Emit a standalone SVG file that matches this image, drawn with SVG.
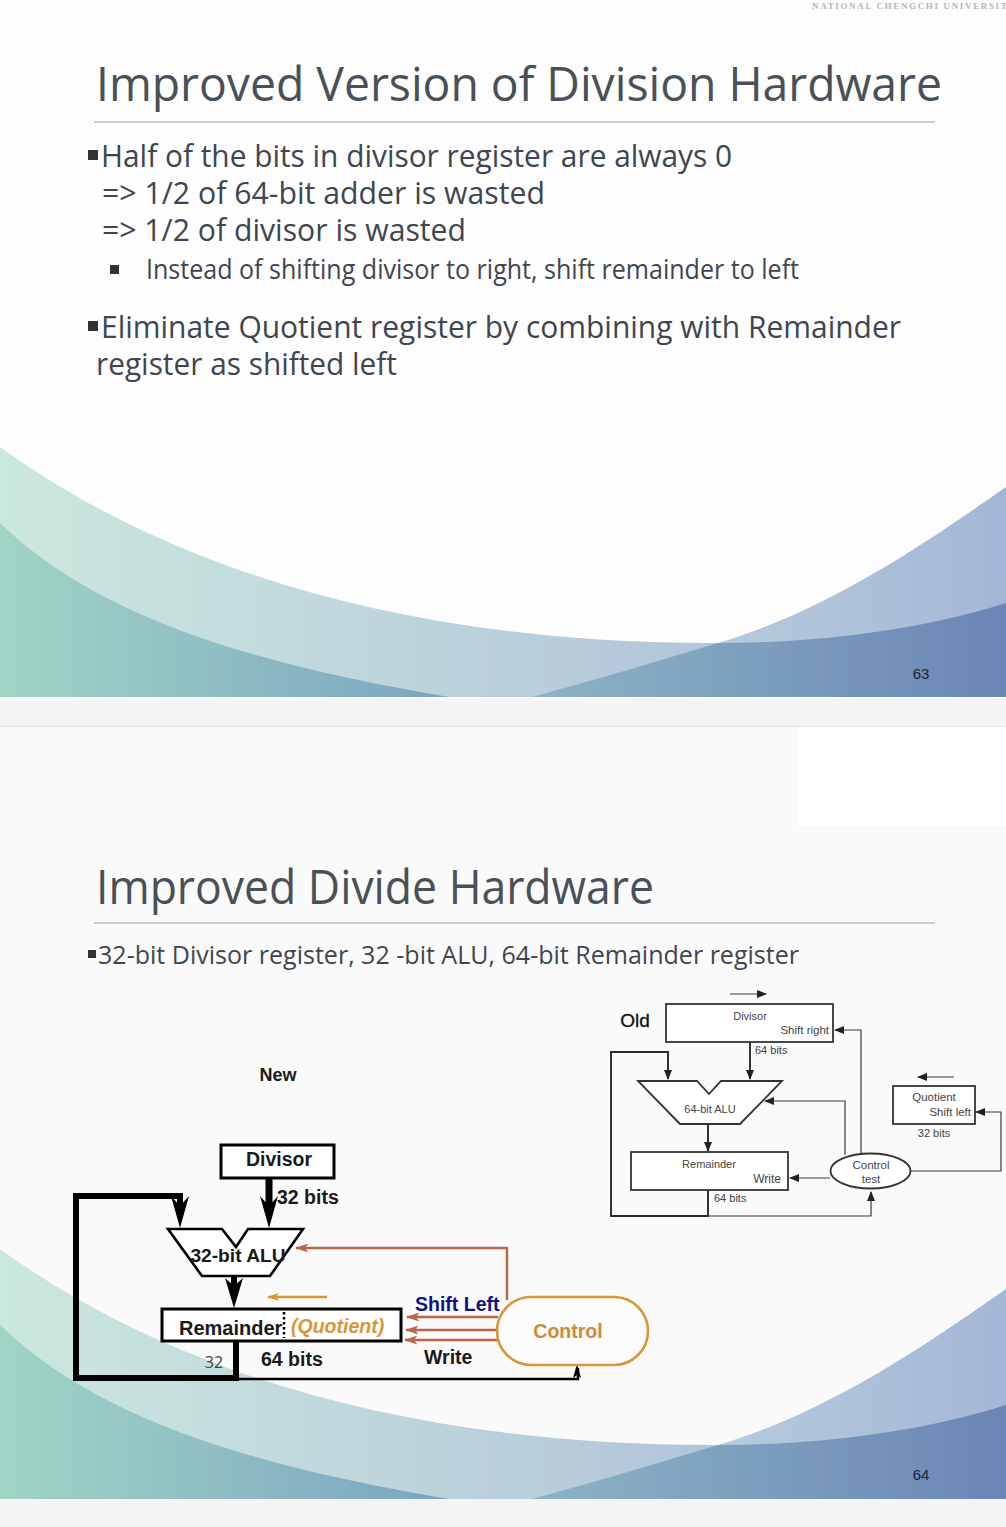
<svg xmlns="http://www.w3.org/2000/svg" xmlns:xlink="http://www.w3.org/1999/xlink" width="1006" height="1527" viewBox="0 0 1006 1527">
<style>
text{font-family:"Open Sans","Noto Sans",sans-serif;fill:#3f4650}
.title{font-size:48px;fill:#4a5058}
.b1{font-size:31px}
.b2{font-size:27px}
.h{font-family:"Liberation Sans",Arial,sans-serif;font-weight:bold;fill:#1a1a1a}
.o{font-family:"Liberation Sans",Arial,sans-serif;fill:#444}
.box{fill:#fff;stroke:#000;stroke-width:3}
.obox{fill:#fff;stroke:#333;stroke-width:1.8}
.ol{fill:none;stroke:#3a3a3a;stroke-width:1.2}
.ot{fill:none;stroke:#2a2a2a;stroke-width:1.9}
.red{fill:none;stroke:#b9654a;stroke-width:2.4}
</style>
<defs>
<linearGradient id="g1" gradientUnits="userSpaceOnUse" x1="0" y1="0" x2="700" y2="0"><stop offset="0" stop-color="#cbe8de"/><stop offset="1" stop-color="#b3c5da"/></linearGradient>
<linearGradient id="g2" gradientUnits="userSpaceOnUse" x1="0" y1="0" x2="450" y2="0"><stop offset="0" stop-color="#a0d4c4"/><stop offset="1" stop-color="#7ca4c2"/></linearGradient>
<linearGradient id="g3" gradientUnits="userSpaceOnUse" x1="700" y1="0" x2="1006" y2="0"><stop offset="0" stop-color="#b7ccdc"/><stop offset="1" stop-color="#a4b6d6"/></linearGradient>
<linearGradient id="g4" gradientUnits="userSpaceOnUse" x1="532" y1="0" x2="1006" y2="0"><stop offset="0" stop-color="#8cb4c4"/><stop offset="1" stop-color="#6b85b6"/></linearGradient>
<g id="swoosh">
<path fill="url(#g1)" d="M0 447C170 570 410 644 718 643L730 697H0Z"/>
<path fill="url(#g3)" d="M1006 487C930 540 830 610 718 643L730 660H1006Z"/>
<path fill="url(#g2)" d="M0 523C100 620 260 665 449 697H0Z"/>
<path fill="url(#g4)" d="M532 697C595 680 655 662 718 643C820 643 920 630 1006 603V697Z"/>
</g>
<marker id="ao" viewBox="0 0 10 8" refX="9" refY="4" markerWidth="10" markerHeight="8" markerUnits="userSpaceOnUse" orient="auto"><path d="M0 0L10 4L0 8Z" fill="#222"/></marker>
<marker id="ar" viewBox="0 0 12 8" refX="11" refY="4" markerWidth="14" markerHeight="9" markerUnits="userSpaceOnUse" orient="auto"><path d="M0 0L12 4L0 8L3 4Z" fill="#b9654a"/></marker>
<marker id="ay" viewBox="0 0 12 8" refX="11" refY="4" markerWidth="13" markerHeight="8" markerUnits="userSpaceOnUse" orient="auto"><path d="M0 0L12 4L0 8L3 4Z" fill="#d9953a"/></marker>
</defs>
<rect width="1006" height="1527" fill="#f3f4f6"/>
<g id="slide1">
<rect width="1006" height="697" fill="#fdfdfd"/>
<use xlink:href="#swoosh" href="#swoosh"/>
<text x="812" y="9" font-size="9" style="font-family:'Liberation Serif',serif;font-weight:bold;fill:#b5b5b5;letter-spacing:1.65px">NATIONAL CHENGCHI UNIVERSIT</text>
<text class="title" x="96" y="101" textLength="846" lengthAdjust="spacingAndGlyphs">Improved Version of Division Hardware</text>
<line x1="94" y1="122" x2="935" y2="122" stroke="#9a9da1" stroke-width="1"/>
<rect x="88" y="150" width="10" height="10" fill="#333"/>
<text class="b1" x="101" y="167" textLength="631" lengthAdjust="spacingAndGlyphs">Half of the bits in divisor register are always 0</text>
<text class="b1" x="102" y="204" textLength="443" lengthAdjust="spacingAndGlyphs">=&gt; 1/2 of 64-bit adder is wasted</text>
<text class="b1" x="102" y="241" textLength="364" lengthAdjust="spacingAndGlyphs">=&gt; 1/2 of divisor is wasted</text>
<rect x="110" y="265" width="9" height="9" fill="#333"/>
<text class="b2" x="146" y="279" textLength="653" lengthAdjust="spacingAndGlyphs">Instead of shifting divisor to right, shift remainder to left</text>
<rect x="88" y="321" width="10" height="10" fill="#333"/>
<text class="b1" x="101" y="338" textLength="800" lengthAdjust="spacingAndGlyphs">Eliminate Quotient register by combining with Remainder</text>
<text class="b1" x="96" y="375" textLength="301" lengthAdjust="spacingAndGlyphs">register as shifted left</text>
<text x="921" y="679" font-size="15" text-anchor="middle" style="font-family:'Liberation Sans',sans-serif;fill:#1c2430">63</text>
</g>
<rect y="697" width="1006" height="1.5" fill="#fff"/>
<rect y="726" width="1006" height="1" fill="#e2e3e5"/>
<g id="slide2">
<rect y="727" width="1006" height="772" fill="#fafafa"/>
<rect x="798" y="727" width="208" height="99" fill="#fff"/>
<use xlink:href="#swoosh" href="#swoosh" transform="translate(0 802)"/>
<text class="title" x="96" y="904" textLength="558" lengthAdjust="spacingAndGlyphs">Improved Divide Hardware</text>
<line x1="94" y1="923" x2="935" y2="923" stroke="#9a9da1" stroke-width="1"/>
<rect x="88" y="950" width="8" height="8" fill="#333"/>
<text x="98" y="964" font-size="26" textLength="701" lengthAdjust="spacingAndGlyphs">32-bit Divisor register, 32 -bit ALU, 64-bit Remainder register</text>
<text x="921" y="1480" font-size="15" text-anchor="middle" style="font-family:'Liberation Sans',sans-serif;fill:#1c2430">64</text>
</g>
<g id="connectors">
<g id="old-connectors">
<path class="ol" d="M730 994H766" marker-end="url(#ao)"/>
<path class="ol" d="M954 1077H918" marker-end="url(#ao)"/>
<path class="ot" d="M750 1042V1079" marker-end="url(#ao)"/>
<path class="ot" d="M708 1190V1216H611V1052H668V1079" marker-end="url(#ao)"/>
<path class="ot" d="M708 1124V1151" marker-end="url(#ao)"/>
<path class="ol" d="M708 1216H871V1192" marker-end="url(#ao)"/>
<path class="ol" d="M830 1178H790" marker-end="url(#ao)"/>
<path class="ol" d="M845 1155V1101H765" marker-end="url(#ao)"/>
<path class="ol" d="M861 1153V1030H835" marker-end="url(#ao)"/>
<path class="ol" d="M911 1171H1001V1112H976" marker-end="url(#ao)"/>
</g>
<g id="new-connectors">
<path d="M269 1178V1212" fill="none" stroke="#000" stroke-width="7"/>
<path d="M269 1228L260 1196L269 1206L278 1196Z" fill="#000"/>
<path d="M180 1210V1196H76V1378H236V1342" fill="none" stroke="#000" stroke-width="6"/>
<path d="M180 1228L171 1196L180 1206L189 1196Z" fill="#000"/>
<path d="M234 1276V1292" fill="none" stroke="#000" stroke-width="6"/>
<path d="M234 1308L225 1278L234 1286L243 1278Z" fill="#000"/>
<path d="M238 1379H578V1368" fill="none" stroke="#000" stroke-width="2.5"/>
<path d="M577 1364L573 1378L577 1375L581 1378Z" fill="#000"/>
<path class="red" d="M507 1300V1248H296" marker-end="url(#ar)"/>
<path class="red" d="M498 1317H407" marker-end="url(#ar)"/>
<path class="red" d="M498 1330H406" marker-end="url(#ar)"/>
<path class="red" d="M498 1340H405" marker-end="url(#ar)"/>
<path d="M327 1297H268" fill="none" stroke="#d9953a" stroke-width="2.4" marker-end="url(#ay)"/>
</g>
</g>
<g id="old-divisor"><rect class="obox" x="666" y="1004" width="167" height="38"/><text class="o" x="750" y="1020" font-size="11" text-anchor="middle">Divisor</text><text class="o" x="829" y="1034" font-size="11.500" text-anchor="end">Shift right</text></g>
<text class="o" x="755" y="1054" font-size="11">64 bits</text>
<g id="old-alu"><path class="obox" d="M638 1081H697L709 1094L721 1081H782L740 1124H680Z"/><text class="o" x="710" y="1113" font-size="11" text-anchor="middle">64-bit ALU</text></g>
<g id="old-remainder"><rect class="obox" x="631" y="1152" width="157" height="38"/><text class="o" x="709" y="1168" font-size="11" text-anchor="middle">Remainder</text><text class="o" x="781" y="1183" font-size="12" text-anchor="end">Write</text></g>
<text class="o" x="714" y="1202" font-size="11">64 bits</text>
<g id="old-control"><ellipse cx="870.500" cy="1171" rx="40" ry="17.500" fill="#fff" stroke="#333" stroke-width="1.8"/><text class="o" x="871" y="1169" font-size="11.500" text-anchor="middle">Control</text><text class="o" x="871" y="1183" font-size="11.500" text-anchor="middle">test</text></g>
<g id="old-quotient"><rect class="obox" x="893" y="1086" width="82" height="38"/><text class="o" x="934" y="1101" font-size="11.500" text-anchor="middle">Quotient</text><text class="o" x="971" y="1116" font-size="11.500" text-anchor="end">Shift left</text></g>
<text class="o" x="934" y="1137" font-size="11" text-anchor="middle">32 bits</text>
<text x="635" y="1027" font-size="19" text-anchor="middle" stroke="#111" stroke-width="0.3" style="font-family:'Liberation Sans',sans-serif;fill:#111">Old</text>
<text class="h" x="278" y="1081" font-size="18" text-anchor="middle">New</text>
<g id="new-divisor"><rect class="box" x="221" y="1145" width="113" height="33"/><text class="h" x="279" y="1166" font-size="19.500" text-anchor="middle">Divisor</text></g>
<text class="h" x="277" y="1204" font-size="19.500">32 bits</text>
<g id="new-alu"><path d="M168 1229H222L236 1247L248 1229H303L270 1276H202Z" fill="#fff" stroke="#000" stroke-width="2.600"/><text class="h" x="238" y="1262" font-size="19.200" text-anchor="middle">32-bit ALU</text></g>
<g id="new-remainder"><rect class="box" x="162" y="1309" width="239" height="32"/><text class="h" x="179" y="1335" font-size="20">Remainder</text><line x1="284" y1="1312" x2="284" y2="1338" stroke="#000" stroke-width="2.5" stroke-dasharray="2.500 2.500"/><text x="291" y="1333" font-size="19.500" style="font-family:'Liberation Sans',sans-serif;font-weight:bold;font-style:italic;fill:#d9953a">(Quotient)</text></g>
<text x="214" y="1368" font-size="16" text-anchor="middle" style="fill:#444">32</text>
<text class="h" x="261" y="1366" font-size="19.500">64 bits</text>
<text class="h" x="415" y="1311" font-size="19.500" style="fill:#0f1280">Shift Left</text>
<text class="h" x="424" y="1364" font-size="19.500">Write</text>
<g id="new-control"><rect x="497" y="1297" width="151" height="68" rx="34" ry="34" fill="#fbfbfb" stroke="#d9953a" stroke-width="2.600"/><text x="568" y="1338" font-size="19.500" text-anchor="middle" style="font-family:'Liberation Sans',sans-serif;font-weight:bold;fill:#c88c3a">Control</text></g>
</svg>
